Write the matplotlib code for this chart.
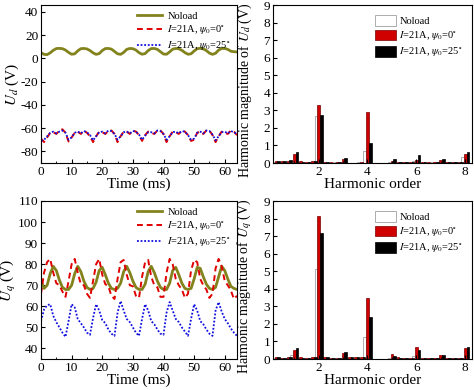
import matplotlib
matplotlib.use("Agg")
import matplotlib.pyplot as plt
import numpy as np

plt.rcParams['font.family'] = ['Liberation Serif', 'DejaVu Serif']
plt.rcParams['mathtext.fontset'] = 'stix'
plt.rcParams['axes.unicode_minus'] = False

# ---------------- data ----------------
time_ms = list(range(0, 65))

ud_noload = [5.0, 3.5, 3.3, 4.8, 7.0, 8.5, 8.7, 8.4, 7.2, 5.2, 3.6, 4.0, 6.5, 8.4, 8.6, 8.2,
             6.8, 4.8, 3.5, 4.2, 6.8, 8.5, 8.6, 8.0, 6.0, 4.0, 3.5, 5.2, 7.8, 8.6, 8.4, 7.2,
             5.0, 3.6, 4.2, 6.8, 8.5, 8.6, 7.8, 5.8, 3.8, 3.6, 5.6, 8.0, 8.6, 8.3, 7.0, 5.0,
             3.6, 4.0, 6.4, 8.4, 8.7, 8.2, 6.8, 4.6, 3.5, 4.5, 7.2, 8.6, 8.6, 7.8, 6.2, 5.8, 5.6]
ud_i21_psi0 = [-69, -72, -68, -64, -63.5, -65, -62, -61, -64, -71.5, -68, -64, -63, -65, -62, -64,
               -67, -72, -67, -63, -63.5, -65, -62.5, -62, -65, -72, -67, -63, -63, -65, -62, -63,
               -66, -71, -66, -63, -64, -65, -62, -62, -65, -72, -67, -63, -63.5, -65, -62, -63,
               -66, -71, -70, -64, -63, -65, -62, -62, -66, -72, -67, -63, -64, -65, -62, -63, -66]
ud_i21_psi25 = [-71, -70, -67, -64, -63, -64.5, -63, -62, -64, -70, -68, -64, -63, -64.5, -62.5, -63.5,
                -66, -70.5, -67, -63.5, -63, -64.5, -62, -62.5, -65, -70, -67, -63.5, -63, -64.5, -62.5, -63,
                -65.5, -70, -66.5, -63.5, -63.5, -64.5, -62, -62.5, -65, -70, -67, -63.5, -63, -64.5, -62.5, -63,
                -66, -70, -69, -64, -63, -64.5, -62, -62.5, -65.5, -70.5, -67, -63.5, -63, -64.5, -62.5, -63.5, -65]

uq_noload = [72, 68.5, 70, 75.5, 79, 77, 72.5, 69, 68, 68, 70, 75.5, 79, 76.5, 72, 69,
             68, 68.5, 71.5, 77, 78.5, 75, 71, 68.5, 68, 68.5, 71, 76.5, 79, 76, 72, 69,
             68, 68, 70.5, 76.5, 79, 76, 72, 69, 68, 68, 71, 77, 78.5, 75, 71, 68.5,
             68, 68.5, 73, 78.5, 78, 74, 70.5, 68.5, 68, 69, 74, 79, 77, 73, 69.5, 68.5, 68]
uq_i21_psi0 = [66, 76, 81, 82.5, 76, 71, 70, 67, 64.5, 72, 80, 82.5, 76, 70.5, 70, 66,
               64, 72, 80, 82.5, 75, 70.5, 69.5, 65, 63.5, 73, 81, 82, 75, 70, 69.5, 65,
               64, 74, 81, 82, 74, 70, 69, 64.5, 64.5, 76, 82.5, 80, 73, 70, 68, 64,
               66, 77, 82, 81, 73, 70, 68, 64, 66, 78, 82.5, 79, 72, 70, 67.5, 63.5, 65]
uq_i21_psi25 = [53, 58.5, 60.5, 61, 55.5, 52.5, 50, 47.5, 45.5, 53, 61, 59.5, 54, 52, 50, 47.5,
                46.5, 54.5, 61, 58, 53.5, 52, 49, 47, 46, 57, 62.5, 58, 54, 52.5, 50, 47.5,
                46, 54, 61, 58, 53, 51.5, 49, 47, 46.5, 57, 62, 58, 54, 52.5, 50, 48,
                46, 54, 61, 58, 53, 51.5, 49, 47, 46, 58, 62, 57.5, 54, 52, 49.5, 47.5, 46]

harmonic_order = [0.25, 0.5, 0.75, 1.0, 1.25, 1.5, 1.75, 2.0,
                  2.25, 2.5, 2.75, 3.0, 3.25, 3.5, 3.75, 4.0,
                  4.25, 4.5, 4.75, 5.0, 5.25, 5.5, 5.75, 6.0,
                  6.25, 6.5, 6.75, 7.0, 7.25, 7.5, 7.75, 8.0]

hd_noload = [0.05, 0.05, 0.05, 0.10, 0.05, 0.05, 0.05, 2.65,
             0.02, 0.02, 0.05, 0.05, 0.02, 0.02, 0.05, 0.70,
             0.02, 0.02, 0.02, 0.05, 0.02, 0.03, 0.05, 0.10,
             0.02, 0.02, 0.03, 0.05, 0.03, 0.03, 0.05, 0.35]
hd_psi0 = [0.12, 0.10, 0.12, 0.50, 0.10, 0.08, 0.10, 3.30,
           0.08, 0.03, 0.05, 0.20, 0.02, 0.02, 0.05, 2.90,
           0.02, 0.02, 0.02, 0.10, 0.05, 0.03, 0.05, 0.18,
           0.05, 0.03, 0.03, 0.15, 0.05, 0.05, 0.05, 0.50]
hd_psi25 = [0.10, 0.10, 0.15, 0.65, 0.08, 0.08, 0.12, 2.75,
            0.03, 0.02, 0.05, 0.30, 0.02, 0.02, 0.02, 1.15,
            0.02, 0.02, 0.02, 0.20, 0.03, 0.03, 0.03, 0.45,
            0.03, 0.02, 0.03, 0.20, 0.05, 0.05, 0.05, 0.60]

hq_noload = [0.05, 0.05, 0.05, 0.20, 0.05, 0.05, 0.05, 5.10,
             0.05, 0.02, 0.02, 0.05, 0.05, 0.05, 0.05, 1.25,
             0.02, 0.02, 0.02, 0.05, 0.05, 0.05, 0.05, 0.15,
             0.05, 0.05, 0.05, 0.05, 0.05, 0.05, 0.05, 0.05]
hq_psi0 = [0.10, 0.08, 0.10, 0.50, 0.10, 0.08, 0.10, 8.15,
           0.10, 0.05, 0.05, 0.35, 0.12, 0.10, 0.10, 3.45,
           0.02, 0.02, 0.02, 0.30, 0.10, 0.08, 0.08, 0.70,
           0.05, 0.05, 0.05, 0.25, 0.05, 0.05, 0.05, 0.65]
hq_psi25 = [0.10, 0.08, 0.10, 0.60, 0.08, 0.08, 0.10, 7.20,
            0.10, 0.05, 0.05, 0.40, 0.12, 0.10, 0.10, 2.40,
            0.02, 0.02, 0.02, 0.15, 0.08, 0.08, 0.05, 0.50,
            0.05, 0.05, 0.05, 0.25, 0.05, 0.05, 0.05, 0.70]

labels = ['Noload', r'$I$=21A, $\psi_0$=0$^{\circ}$', r'$I$=21A, $\psi_0$=25$^{\circ}$']

OLIVE = '#83831e'
RED = '#e00000'
BLUE = '#1010e0'

W, H = 474, 390
fig = plt.figure(figsize=(W / 100, H / 100), dpi=100)

def ax_px(l, t, r, b):
    return fig.add_axes([l / W, 1 - b / H, (r - l) / W, (b - t) / H])

ax_tl = ax_px(41, 5, 237, 163)
ax_tr = ax_px(273, 5, 472, 163)
ax_bl = ax_px(41, 201, 237, 359)
ax_br = ax_px(273, 201, 472, 359)

TICK_FS = 9.5
LAB_FS = 11

def style(ax):
    ax.tick_params(direction='in', labelsize=TICK_FS, which='both', top=False, right=False, pad=2)
    ax.tick_params(which='major', length=3)
    ax.tick_params(which='minor', length=1.5)
    for s in ax.spines.values():
        s.set_linewidth(0.8)

def time_plot(ax, y0, y1, y2, ylim, yticks, ylab):
    ax.plot(time_ms, y0, color=OLIVE, lw=2.0, label=labels[0])
    ax.plot(time_ms, y1, color=RED, lw=1.4, ls=(0, (3, 2)), label=labels[1])
    ax.plot(time_ms, y2, color=BLUE, lw=1.3, ls=(0, (1, 1)), label=labels[2])
    ax.set_xlim(0, 64)
    ax.set_ylim(*ylim)
    ax.set_xticks(range(0, 61, 10))
    ax.set_xticks(range(5, 64, 10), minor=True)
    ax.set_yticks(yticks)
    ax.set_xlabel('Time (ms)', fontsize=LAB_FS, labelpad=0)
    ax.set_ylabel(ylab, fontsize=LAB_FS, labelpad=0)
    style(ax)
    ax.legend(loc='upper right', frameon=False, fontsize=7.5, handlelength=2.4,
              borderaxespad=0.2, labelspacing=0.3, handletextpad=0.5)

time_plot(ax_tl, ud_noload, ud_i21_psi0, ud_i21_psi25, (-90, 46), range(-80, 41, 20), r'$U_d$ (V)')
time_plot(ax_bl, uq_noload, uq_i21_psi0, uq_i21_psi25, (35, 110), range(40, 111, 10), r'$U_q$ (V)')

def bar_plot(ax, v0, v1, v2, ylab):
    x = np.array(harmonic_order)
    w = 0.11
    ax.bar(x - w, v0, width=w, color='white', edgecolor='#a0a0a0', linewidth=0.6, label=labels[0])
    ax.bar(x, v1, width=w, color='#d00000', edgecolor='#7a0000', linewidth=0.5, label=labels[1])
    ax.bar(x + w, v2, width=w, color='black', edgecolor='black', linewidth=0.5, label=labels[2])
    ax.set_xlim(0.13, 8.28)
    ax.set_ylim(0, 9)
    ax.set_xticks([2, 4, 6, 8])
    ax.set_xticks([1, 3, 5, 7], minor=True)
    ax.set_yticks(range(0, 10))
    ax.set_xlabel('Harmonic order', fontsize=LAB_FS, labelpad=0)
    ax.set_ylabel(ylab, fontsize=10)
    ax.yaxis.set_label_coords(-0.095, 0.46)
    style(ax)
    ax.legend(loc='upper right', frameon=False, fontsize=7.5, handlelength=2.0,
              handleheight=1.2, borderaxespad=0.3, labelspacing=0.3, handletextpad=0.3,
              bbox_to_anchor=(0.99, 0.98))

bar_plot(ax_tr, hd_noload, hd_psi0, hd_psi25, r'Harmonic magnitude of $U_d$ (V)')
bar_plot(ax_br, hq_noload, hq_psi0, hq_psi25, r'Harmonic magnitude of $U_q$ (V)')

fig.savefig('out.png', dpi=100)
